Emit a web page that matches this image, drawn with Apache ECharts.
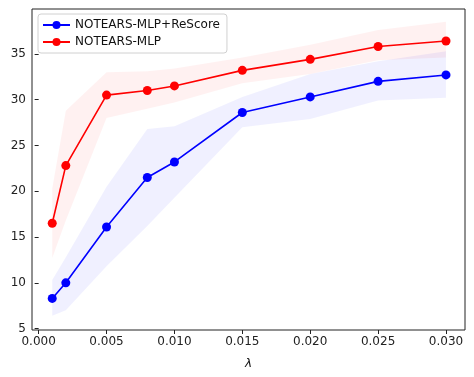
<!DOCTYPE html>
<html>
<head>
<meta charset="utf-8">
<script src="https://cdn.jsdelivr.net/npm/echarts@6/dist/echarts.min.js"></script>
<style>html,body{margin:0;padding:0;background:#fff}#c{width:474px;height:377px}</style>
</head>
<body>
<div id="c"></div>
<script>
const lambdas = [0.001, 0.002, 0.005, 0.008, 0.010, 0.015, 0.020, 0.025, 0.030];
const rescoreMean = [8.3, 10.0, 16.1, 21.5, 23.2, 28.6, 30.3, 32.0, 32.7];
const rescoreLow  = [6.4, 7.0, 11.8, 16.2, 19.3, 27.0, 27.9, 29.9, 30.2];
const rescoreHigh = [10.3, 12.8, 20.5, 26.8, 27.1, 30.3, 32.8, 34.2, 35.3];
const mlpMean = [16.5, 22.8, 30.5, 31.0, 31.5, 33.2, 34.4, 35.8, 36.4];
const mlpLow  = [12.7, 16.8, 28.0, 29.0, 29.7, 31.8, 32.8, 34.3, 34.6];
const mlpHigh = [20.3, 28.8, 33.0, 33.1, 33.4, 34.6, 36.0, 37.6, 38.5];
const xTicks = [0.000, 0.005, 0.010, 0.015, 0.020, 0.025, 0.030];
const yTicks = [5, 10, 15, 20, 25, 30, 35];

const pairs = (ys) => lambdas.map((x, i) => [x, ys[i]]);
const font = 'DejaVu Sans';

function band(name, lo, hi, color) {
  const data = lambdas.map((x, i) => [x, lo[i], hi[i]]);
  return {
    type: 'custom', name: name, silent: true, z: 1,
    coordinateSystem: 'cartesian2d',
    encode: { x: 0, y: [1, 2] },
    data: data,
    renderItem: function (params, api) {
      if (params.dataIndex !== 0) return null;
      const pts = [];
      for (let i = 0; i < lambdas.length; i++) pts.push(api.coord([lambdas[i], hi[i]]));
      for (let i = lambdas.length - 1; i >= 0; i--) pts.push(api.coord([lambdas[i], lo[i]]));
      return { type: 'polygon', shape: { points: pts }, style: { fill: color, stroke: null } };
    }
  };
}

const chart = echarts.init(document.getElementById('c'), null, { renderer: 'canvas' });
chart.setOption({
  animation: false,
  backgroundColor: '#fff',
  textStyle: { fontFamily: font },
  grid: { left: 32, right: 9, top: 9, bottom: 47, show: true, borderColor: '#222', borderWidth: 1, containLabel: false },
  legend: {
    data: ['NOTEARS-MLP+ReScore', 'NOTEARS-MLP'],
    orient: 'vertical', left: 38, top: 14,
    backgroundColor: 'rgba(255,255,255,0.85)', borderColor: '#d0d0d0', borderWidth: 1, borderRadius: 3,
    padding: [4, 7, 4, 4], itemGap: 3, itemWidth: 27, itemHeight: 10,
    textStyle: { fontFamily: font, fontSize: 12, color: '#111', lineHeight: 14 }
  },
  xAxis: {
    type: 'value', min: -0.00049, max: 0.0314,
    name: 'λ', nameLocation: 'middle', nameGap: 28,
    nameTextStyle: { fontFamily: font, fontSize: 12, fontStyle: 'italic', color: '#111' },
    splitLine: { show: false },
    axisLine: { show: false },
    axisTick: { show: true, inside: false, length: 4, lineStyle: { color: '#222' }, customValues: xTicks },
    axisLabel: { customValues: xTicks, formatter: v => v.toFixed(3), fontFamily: font, fontSize: 12, color: '#222', margin: 6 }
  },
  yAxis: {
    type: 'value', min: 4.85, max: 39.9,
    splitLine: { show: false },
    axisLine: { show: false },
    axisTick: { show: true, inside: false, length: 4, lineStyle: { color: '#222' }, customValues: yTicks },
    axisLabel: { customValues: yTicks, formatter: v => String(v), fontFamily: font, fontSize: 12, color: '#222', margin: 6 }
  },
  series: [
    band('rescoreBand', rescoreLow, rescoreHigh, 'rgba(0,0,255,0.06)'),
    band('mlpBand', mlpLow, mlpHigh, 'rgba(255,0,0,0.055)'),
    { type: 'line', name: 'NOTEARS-MLP+ReScore', data: pairs(rescoreMean), symbol: 'circle', symbolSize: 9,
      lineStyle: { color: '#0000ff', width: 1.6 }, itemStyle: { color: '#0000ff' }, z: 3 },
    { type: 'line', name: 'NOTEARS-MLP', data: pairs(mlpMean), symbol: 'circle', symbolSize: 9,
      lineStyle: { color: '#ff0000', width: 1.6 }, itemStyle: { color: '#ff0000' }, z: 3 }
  ]
});
</script>
</body>
</html>
